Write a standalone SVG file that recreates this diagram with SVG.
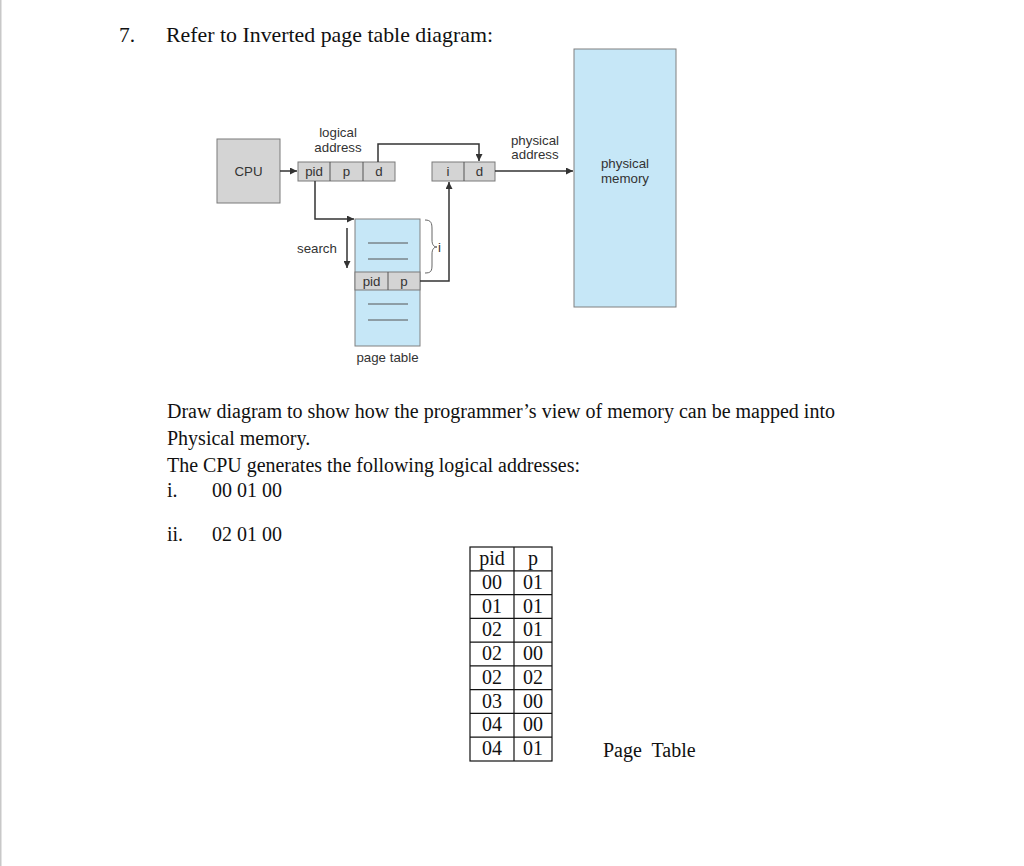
<svg xmlns="http://www.w3.org/2000/svg" width="1024" height="866" viewBox="0 0 1024 866">
<style>
.doc{font-family:"Liberation Serif","Times New Roman",serif;font-size:20px;fill:#111}
.ttl{font-family:"Liberation Serif","Times New Roman",serif;font-size:21.5px;fill:#111}
.tc{font-family:"Liberation Serif","Times New Roman",serif;font-size:20px;fill:#111;text-anchor:middle}
.lbl{font-family:"Liberation Sans",Arial,sans-serif;font-size:13.3px;fill:#333}
.mid{text-anchor:middle}
.gbox{fill:#d4d4d4;stroke:#7a7a7a;stroke-width:1}
.blue{fill:#c6e7f7;stroke:#808080;stroke-width:1}
.conn{fill:none;stroke:#333;stroke-width:1.5}
.rule{stroke:#555;stroke-width:1}
.grid{stroke:#111;stroke-width:1.2;fill:none}
</style>
<defs>
<marker id="ah" viewBox="0 0 10 10" refX="10" refY="5" markerWidth="7" markerHeight="7" markerUnits="userSpaceOnUse" orient="auto">
<path d="M0,0 L10,5 L0,10 z" fill="#333"/>
</marker>
</defs>
<rect x="0" y="0" width="1024" height="866" fill="#ffffff"/>
<rect x="0" y="0" width="1.5" height="866" fill="#c8c8c8"/>

<g id="question-text">
<text class="ttl" x="119" y="42">7.</text>
<text class="ttl" x="166" y="42" textLength="327" lengthAdjust="spacingAndGlyphs">Refer to Inverted page table diagram:</text>
<text class="doc" x="167" y="418" textLength="668" lengthAdjust="spacingAndGlyphs">Draw diagram to show how the programmer’s view of memory can be mapped into</text>
<text class="doc" x="167" y="445">Physical memory.</text>
<text class="doc" x="167" y="472" textLength="413" lengthAdjust="spacingAndGlyphs">The CPU generates the following logical addresses:</text>
<text class="doc" x="167" y="497">i.</text>
<text class="doc" x="212" y="497">00 01 00</text>
<text class="doc" x="167" y="541">ii.</text>
<text class="doc" x="212" y="541">02 01 00</text>
</g>

<g id="cpu">
<rect class="gbox" x="217" y="139" width="63" height="64"/>
<text class="lbl mid" x="248.5" y="176">CPU</text>
</g>

<g id="logical-address">
<text class="lbl mid" x="338" y="137">logical</text>
<text class="lbl mid" x="338" y="152">address</text>
<rect class="gbox" x="298" y="162" width="97" height="19"/>
<line class="rule" x1="330" y1="162" x2="330" y2="181"/>
<line class="rule" x1="363" y1="162" x2="363" y2="181"/>
<text class="lbl mid" x="314" y="176">pid</text>
<text class="lbl mid" x="346.5" y="176">p</text>
<text class="lbl mid" x="379" y="176">d</text>
</g>

<g id="physical-address">
<text class="lbl mid" x="535" y="145">physical</text>
<text class="lbl mid" x="535" y="159">address</text>
<rect class="gbox" x="432" y="162" width="63" height="19"/>
<line class="rule" x1="464" y1="162" x2="464" y2="181"/>
<text class="lbl mid" x="448" y="176">i</text>
<text class="lbl mid" x="479.5" y="176">d</text>
</g>

<g id="physical-memory">
<rect class="blue" x="574" y="49" width="102" height="258"/>
<text class="lbl mid" x="625" y="168">physical</text>
<text class="lbl mid" x="625" y="183">memory</text>
</g>

<g id="page-table">
<rect class="blue" x="355" y="219" width="65" height="127"/>
<line class="rule" x1="368" y1="243" x2="408" y2="243"/>
<line class="rule" x1="368" y1="259" x2="408" y2="259"/>
<rect class="gbox" x="355" y="272" width="65" height="18"/>
<line class="rule" x1="388" y1="272" x2="388" y2="290"/>
<text class="lbl mid" x="371.5" y="286">pid</text>
<text class="lbl mid" x="404" y="286">p</text>
<line class="rule" x1="368" y1="304" x2="408" y2="304"/>
<line class="rule" x1="368" y1="320" x2="408" y2="320"/>
<text class="lbl mid" x="387.5" y="362">page table</text>
<text class="lbl" x="297" y="253">search</text>
<path d="M425,220 C431,220 432,223 432,229 L432,240 C432,245 434,247 437,247 C434,247 432,249 432,254 L432,265 C432,271 431,273 425,273" fill="none" stroke="#666" stroke-width="1"/>
<text class="lbl" x="438" y="252">i</text>
</g>

<g id="connectors">
<path class="conn" d="M280,171 H297" marker-end="url(#ah)"/>
<path class="conn" d="M378,162 V144 H479 V161" marker-end="url(#ah)"/>
<path class="conn" d="M315,181 V219 H354" marker-end="url(#ah)"/>
<path class="conn" d="M420,281 H449 V182" marker-end="url(#ah)"/>
<path class="conn" d="M495,171 H573" marker-end="url(#ah)"/>
<path class="conn" d="M347,228 V268" marker-end="url(#ah)"/>
</g>

<g id="table">
<rect class="grid" x="470" y="547" width="82" height="214"/>
<line class="grid" x1="514" y1="547" x2="514" y2="761"/>
<line class="grid" x1="470" y1="570.8" x2="552" y2="570.8"/>
<line class="grid" x1="470" y1="594.6" x2="552" y2="594.6"/>
<line class="grid" x1="470" y1="618.3" x2="552" y2="618.3"/>
<line class="grid" x1="470" y1="642.1" x2="552" y2="642.1"/>
<line class="grid" x1="470" y1="665.9" x2="552" y2="665.9"/>
<line class="grid" x1="470" y1="689.7" x2="552" y2="689.7"/>
<line class="grid" x1="470" y1="713.4" x2="552" y2="713.4"/>
<line class="grid" x1="470" y1="737.2" x2="552" y2="737.2"/>
<text class="tc" x="492" y="565">pid</text><text class="tc" x="533" y="565">p</text>
<text class="tc" x="492" y="589">00</text><text class="tc" x="533" y="589">01</text>
<text class="tc" x="492" y="613">01</text><text class="tc" x="533" y="613">01</text>
<text class="tc" x="492" y="636">02</text><text class="tc" x="533" y="636">01</text>
<text class="tc" x="492" y="660">02</text><text class="tc" x="533" y="660">00</text>
<text class="tc" x="492" y="684">02</text><text class="tc" x="533" y="684">02</text>
<text class="tc" x="492" y="708">03</text><text class="tc" x="533" y="708">00</text>
<text class="tc" x="492" y="731">04</text><text class="tc" x="533" y="731">00</text>
<text class="tc" x="492" y="755">04</text><text class="tc" x="533" y="755">01</text>
<text class="doc" x="603" y="757" xml:space="preserve">Page  Table</text>
</g>
</svg>
